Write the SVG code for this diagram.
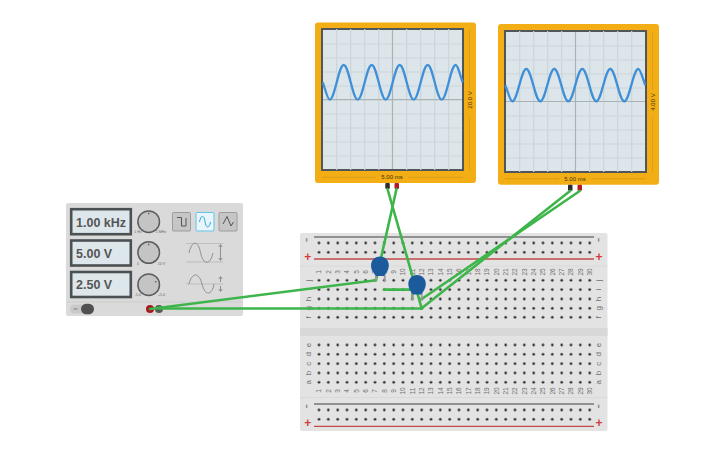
<svg xmlns="http://www.w3.org/2000/svg" xmlns:xlink="http://www.w3.org/1999/xlink" width="725" height="453" viewBox="0 0 725 453">
<style>
text{font-family:"Liberation Sans",Arial,sans-serif}
.hole{fill:#2e2e2e;stroke:#ababab;stroke-width:.6}
.num{font-size:6.5px;fill:#707070;text-anchor:middle}
.let{font-size:8px;fill:#6f6f6f;text-anchor:middle}
.plus{font-size:12px;font-weight:bold;text-anchor:middle;fill:#d23c3c}
.minus{font-size:14px;text-anchor:middle;fill:#808080}
.disp{fill:#dde7eb;stroke:#4b5053;stroke-width:2.6}
.dtxt{font-size:12.5px;font-weight:bold;fill:#555}
.knob{fill:#c4c4c4;stroke:#5c5c5c;stroke-width:1.500}
.dot{fill:#555}
.tiny{font-size:3.6px;fill:#666;text-anchor:middle}
.btn{fill:#c6c6c6;stroke:#9c9c9c;stroke-width:1}
.ico{fill:none;stroke:#555;stroke-width:1}
.guide{fill:none;stroke:#b6b6b6;stroke-width:.8}
.gw{fill:none;stroke:#8f8f8f;stroke-width:1}
.body{fill:#f2ae14}
.screen{fill:#dce6ea;stroke:#50565a;stroke-width:2}
.grid{fill:none;stroke:#ccd6da;stroke-width:1.200}
.axis{fill:none;stroke:#a9b2b4;stroke-width:1.200}
.trace{fill:none;stroke:#3f90d8;stroke-width:2.300}
.tick{fill:none;stroke:#d39a16;stroke-width:.7}
.stxt{font-size:6px;fill:#3f3010;text-anchor:middle}
.wire{fill:none;stroke:#3db54a;stroke-width:2.600;stroke-linecap:round;stroke-linejoin:round}
.cap{fill:#1b5a9b}
.leg{fill:none;stroke:#9a9a9a;stroke-width:1.800}
</style>
<defs>
<g id="holes">
<circle class="hole" cx="319" r="1.4"/><circle class="hole" cx="328.3" r="1.4"/><circle class="hole" cx="337.7" r="1.4"/><circle class="hole" cx="347" r="1.4"/><circle class="hole" cx="356.3" r="1.4"/><circle class="hole" cx="365.7" r="1.4"/><circle class="hole" cx="375" r="1.4"/><circle class="hole" cx="384.3" r="1.4"/><circle class="hole" cx="393.7" r="1.4"/><circle class="hole" cx="403" r="1.4"/><circle class="hole" cx="412.3" r="1.4"/><circle class="hole" cx="421.7" r="1.4"/><circle class="hole" cx="431" r="1.4"/><circle class="hole" cx="440.3" r="1.4"/><circle class="hole" cx="449.7" r="1.4"/><circle class="hole" cx="459" r="1.4"/><circle class="hole" cx="468.3" r="1.4"/><circle class="hole" cx="477.7" r="1.4"/><circle class="hole" cx="487" r="1.4"/><circle class="hole" cx="496.3" r="1.4"/><circle class="hole" cx="505.7" r="1.4"/><circle class="hole" cx="515" r="1.4"/><circle class="hole" cx="524.3" r="1.4"/><circle class="hole" cx="533.7" r="1.4"/><circle class="hole" cx="543" r="1.4"/><circle class="hole" cx="552.3" r="1.4"/><circle class="hole" cx="561.7" r="1.4"/><circle class="hole" cx="571" r="1.4"/><circle class="hole" cx="580.3" r="1.4"/><circle class="hole" cx="589.7" r="1.4"/>
</g>
</defs>
<rect width="725" height="453" fill="#fff"/>

<g id="breadboard">
<rect x="300" y="233" width="307.500" height="198" rx="2" fill="#e3e3e3"/>
<rect x="300" y="328" width="307.500" height="8" fill="#d8d8d8"/>
<path d="M300 266H607.500M300 397.500H607.500" stroke="#dadada" fill="none"/>
<path d="M314 237H594M314 404H594" stroke="#777" stroke-width="1.400" fill="none"/>
<path d="M314 259H594M314 426.300H594" stroke="#c44a4a" stroke-width="1.300" fill="none"/>
<use xlink:href="#holes" href="#holes" y="243"/><use xlink:href="#holes" href="#holes" y="252.300"/>
<use xlink:href="#holes" href="#holes" y="280.300"/><use xlink:href="#holes" href="#holes" y="289.600"/><use xlink:href="#holes" href="#holes" y="299"/><use xlink:href="#holes" href="#holes" y="308.300"/><use xlink:href="#holes" href="#holes" y="317.300"/>
<use xlink:href="#holes" href="#holes" y="345"/><use xlink:href="#holes" href="#holes" y="354.300"/><use xlink:href="#holes" href="#holes" y="363.700"/><use xlink:href="#holes" href="#holes" y="373"/><use xlink:href="#holes" href="#holes" y="382.300"/>
<use xlink:href="#holes" href="#holes" y="410"/><use xlink:href="#holes" href="#holes" y="419.300"/>
<g transform="translate(0,272) rotate(-90)">
<text class="num" y="321.200">1</text><text class="num" y="330.500">2</text><text class="num" y="339.900">3</text><text class="num" y="349.200">4</text><text class="num" y="358.500">5</text><text class="num" y="367.900">6</text><text class="num" y="377.200">7</text><text class="num" y="386.500">8</text><text class="num" y="395.900">9</text><text class="num" y="405.200">10</text><text class="num" y="414.500">11</text><text class="num" y="423.900">12</text><text class="num" y="433.200">13</text><text class="num" y="442.500">14</text><text class="num" y="451.900">15</text><text class="num" y="461.200">16</text><text class="num" y="470.500">17</text><text class="num" y="479.900">18</text><text class="num" y="489.200">19</text><text class="num" y="498.500">20</text><text class="num" y="507.900">21</text><text class="num" y="517.200">22</text><text class="num" y="526.500">23</text><text class="num" y="535.900">24</text><text class="num" y="545.200">25</text><text class="num" y="554.500">26</text><text class="num" y="563.900">27</text><text class="num" y="573.200">28</text><text class="num" y="582.500">29</text><text class="num" y="591.900">30</text>
</g>
<g transform="translate(0,391) rotate(-90)">
<text class="num" y="321.200">1</text><text class="num" y="330.500">2</text><text class="num" y="339.900">3</text><text class="num" y="349.200">4</text><text class="num" y="358.500">5</text><text class="num" y="367.900">6</text><text class="num" y="377.200">7</text><text class="num" y="386.500">8</text><text class="num" y="395.900">9</text><text class="num" y="405.200">10</text><text class="num" y="414.500">11</text><text class="num" y="423.900">12</text><text class="num" y="433.200">13</text><text class="num" y="442.500">14</text><text class="num" y="451.900">15</text><text class="num" y="461.200">16</text><text class="num" y="470.500">17</text><text class="num" y="479.900">18</text><text class="num" y="489.200">19</text><text class="num" y="498.500">20</text><text class="num" y="507.900">21</text><text class="num" y="517.200">22</text><text class="num" y="526.500">23</text><text class="num" y="535.900">24</text><text class="num" y="545.200">25</text><text class="num" y="554.500">26</text><text class="num" y="563.900">27</text><text class="num" y="573.200">28</text><text class="num" y="582.500">29</text><text class="num" y="591.900">30</text>
</g>
<g transform="translate(310.500,0) rotate(-90)">
<text class="let" x="-280.300">j</text><text class="let" x="-289.600">i</text><text class="let" x="-299">h</text><text class="let" x="-308.300">g</text><text class="let" x="-317.300">f</text>
<text class="let" x="-345">e</text><text class="let" x="-354.300">d</text><text class="let" x="-363.700">c</text><text class="let" x="-373">b</text><text class="let" x="-382.300">a</text>
</g>
<g transform="translate(601,0) rotate(-90)">
<text class="let" x="-280.300">j</text><text class="let" x="-289.600">i</text><text class="let" x="-299">h</text><text class="let" x="-308.300">g</text><text class="let" x="-317.300">f</text>
<text class="let" x="-345">e</text><text class="let" x="-354.300">d</text><text class="let" x="-363.700">c</text><text class="let" x="-373">b</text><text class="let" x="-382.300">a</text>
</g>
<text class="plus" x="307.700" y="261">+</text><text class="plus" x="599" y="261">+</text>
<text class="plus" x="307.700" y="427.300">+</text><text class="plus" x="599" y="427.300">+</text>
<text class="minus" transform="translate(311.300,240) rotate(-90)">-</text><text class="minus" transform="translate(602.600,240) rotate(-90)">-</text>
<text class="minus" transform="translate(311.300,406.500) rotate(-90)">-</text><text class="minus" transform="translate(602.600,406.500) rotate(-90)">-</text>
</g>

<g id="function-generator">
<rect x="66" y="203" width="177" height="113" rx="2" fill="#dadada"/>
<path d="M66 302H243" stroke="#cdcdcd" fill="none"/>
<rect class="disp" x="71.200" y="209.200" width="59.600" height="25"/>
<rect class="disp" x="71.200" y="240.500" width="59.600" height="25"/>
<rect class="disp" x="71.200" y="272" width="59.600" height="25"/>
<text class="dtxt" x="76" y="226.500">1.00 kHz</text>
<text class="dtxt" x="76" y="258">5.00 V</text>
<text class="dtxt" x="76" y="289">2.50 V</text>
<circle class="knob" cx="148.700" cy="221.700" r="10.800"/><circle class="dot" cx="148.700" cy="213.500" r=".8"/>
<circle class="knob" cx="148.700" cy="252.500" r="10.800"/><circle class="dot" cx="148.700" cy="244.500" r=".8"/>
<circle class="knob" cx="148.700" cy="284.700" r="10.800"/><circle class="dot" cx="155.700" cy="281.700" r=".8"/>
<text class="tiny" x="138" y="232.500">1 Hz</text><text class="tiny" x="161" y="232.500">1 MHz</text>
<text class="tiny" x="138" y="264.500">0</text><text class="tiny" x="161.500" y="264.500">10 V</text>
<text class="tiny" x="138" y="296">-5.0</text><text class="tiny" x="161.500" y="296">+5.0</text>
<rect class="btn" x="172.500" y="212.500" width="18" height="18.500" rx="1"/>
<rect x="196" y="212.500" width="18" height="18.500" rx="1" fill="#e9f5fb" stroke="#63c3ea"/>
<rect class="btn" x="219" y="212.500" width="18" height="18.500" rx="1"/>
<path class="ico" d="M177 217.500H181.500V226H186V218"/>
<path d="M199.500 222C201 214.500 204 214.500 205 221.500S209 229 210.500 222" fill="none" stroke="#2da6de" stroke-width="1"/>
<path class="ico" d="M223 224L227 216.500L231 226L233.500 222"/>
<path class="guide" d="M186 243.500H223M186 262H223M186 284H223"/>
<path class="gw" d="M189 253C192 240 198 240 200.500 252.500S210 266 213 253"/>
<path class="gw" d="M220.500 245V260M218.800 247L220.500 244.500L222.200 247M218.800 258L220.500 260.500L222.200 258"/>
<path class="gw" d="M189 284C192 272 199 272 202 284S212 296 214 284"/>
<path class="gw" d="M220.500 277V282M218.800 279L220.500 276.500L222.200 279M220.500 286V291M218.800 289L220.500 291.500L222.200 289"/>
<rect x="70" y="304.500" width="24" height="9" rx="4.500" fill="#c9c9c9"/>
<rect x="81" y="303.800" width="13" height="10.500" rx="5.200" fill="#505050"/>
<text class="tiny" x="75.500" y="310.300">on</text>
<circle cx="150" cy="309" r="4" fill="#a8191e"/>
<circle cx="159" cy="309" r="4" fill="#5a5a5a"/>
</g>

<g id="oscilloscope-1">
<rect class="body" x="315" y="22.500" width="161" height="160.500" rx="3"/>
<rect class="screen" x="322" y="29" width="141" height="141"/>
<path class="grid" d="M336.700 29V170M350.700 29V170M364.700 29V170M378.700 29V170M406.700 29V170M420.700 29V170M434.700 29V170M448.700 29V170M323 44H462M323 58H462M323 72H462M323 86H462M323 114H462M323 128H462M323 142H462M323 156H462"/>
<path class="axis" d="M392.500 30V169M323 99.700H462"/>
<path class="trace" d="M322.700 82.300C325 88 327.400 99.600 329.700 99.600C334.800 99.600 338.600 65 343.700 65S352.600 99.600 357.700 99.600S366.600 65 371.700 65S380.600 99.600 385.700 99.600S394.600 65 399.700 65S408.600 99.600 413.700 99.600S422.600 65 427.700 65S436.600 99.600 441.700 99.600S450.600 65 455.700 65C458 65 460.400 76.600 462.700 82.300"/>
<path class="tick" d="M322 177.300H376M408 177.300H463M469.500 30V90M469.500 117V170"/>
<text class="stxt" x="392" y="179.200">5.00 ms</text>
<text class="stxt" transform="translate(471.500,100) rotate(-90)">20.0 V</text>
<rect x="385.300" y="183" width="4.500" height="6" rx="1" fill="#2b2b2b"/>
<rect x="394.500" y="183" width="4.500" height="6" rx="1" fill="#b01c20"/>
</g>

<g id="oscilloscope-2">
<rect class="body" x="498" y="24" width="161" height="160.700" rx="3"/>
<rect class="screen" x="505" y="31" width="141" height="141"/>
<path class="grid" d="M519.700 31V172M533.700 31V172M547.700 31V172M561.700 31V172M589.700 31V172M603.700 31V172M617.700 31V172M631.700 31V172M506 46H645M506 60H645M506 74H645M506 88H645M506 116H645M506 130H645M506 144H645M506 158H645"/>
<path class="axis" d="M575.500 32V171M506 101.500H645"/>
<path class="trace" d="M505.300 85.200C507.600 90.500 510 101.300 512.300 101.300C517.400 101.300 521.200 69 526.300 69S535.200 101.300 540.300 101.300S549.200 69 554.300 69S563.200 101.300 568.300 101.300S577.200 69 582.300 69S591.200 101.300 596.300 101.300S605.200 69 610.300 69S619.200 101.300 624.300 101.300S633.200 69 638.300 69C640.600 69 643 79.600 645.300 85.200"/>
<path class="tick" d="M505 178.700H559M591 178.700H646M652.500 32V90M652.500 117V172"/>
<text class="stxt" x="575" y="180.500">5.00 ms</text>
<text class="stxt" transform="translate(654.500,102) rotate(-90)">4.00 V</text>
<rect x="568" y="184.700" width="4.500" height="6" rx="1" fill="#2b2b2b"/>
<rect x="577.500" y="184.700" width="4.500" height="6" rx="1" fill="#b01c20"/>
</g>

<g id="connectors">
<path class="wire" d="M150 309L376 280.300"/>
<path class="wire" d="M159 308.500H421.700"/>
<path class="wire" d="M384 289.600H412.300V298"/>
<path class="wire" d="M387.500 189L421.700 308.300"/>
<path class="wire" d="M396.500 189L376 280.300"/>
<path class="wire" d="M570 191L421.700 308.300"/>
<path class="wire" d="M579.700 191L421.700 299"/>
</g>

<g id="capacitor-1">
<path class="leg" d="M376 275V281M384.700 275V281"/>
<path class="cap" d="M380 256.500C385.500 256.500 388.800 260.500 388.800 265.500C388.800 270 386.500 273 384 276H376C373.500 273 371 270 371 265.500C371 260.500 374.500 256.500 380 256.500Z"/>
</g>
<g id="capacitor-2">
<path class="leg" d="M412.300 293V300M421.700 293V300"/>
<path class="cap" d="M417 275C422.500 275 425.800 279 425.800 284C425.800 288.500 423.500 291.500 421 294.500H413C410.500 291.500 408.300 288.500 408.300 284C408.300 279 411.500 275 417 275Z"/>
</g>
</svg>
